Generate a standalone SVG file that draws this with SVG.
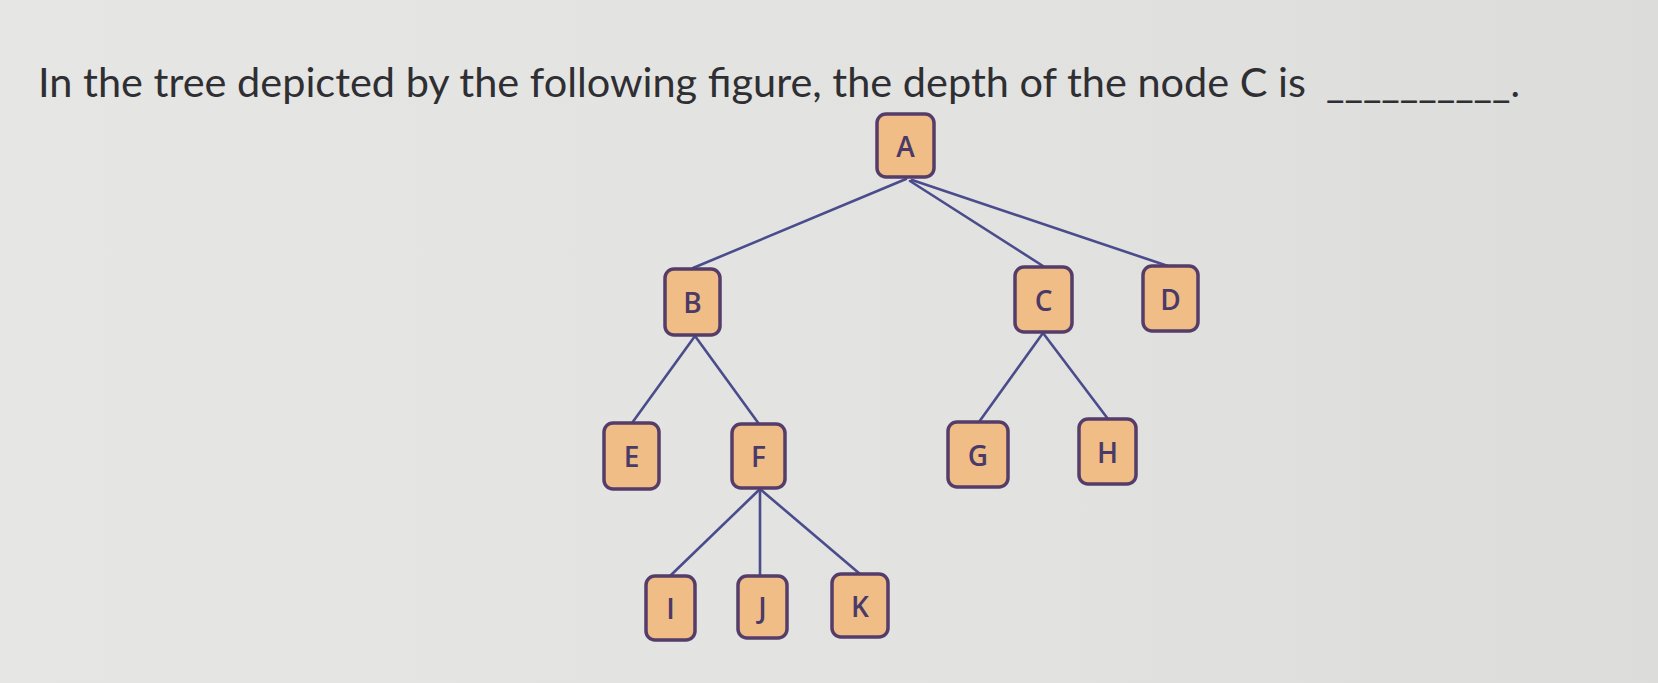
<svg xmlns="http://www.w3.org/2000/svg" width="1658" height="683" viewBox="0 0 1658 683">
<defs>
<linearGradient id="bg" x1="0" y1="0" x2="1" y2="0">
<stop offset="0" stop-color="#e6e6e4"/>
<stop offset="0.6" stop-color="#e2e2e0"/>
<stop offset="1" stop-color="#dcdcda"/>
</linearGradient>
<style>
.node rect{fill:#f1bd86;stroke:#553d6a;stroke-width:3.5}
.node text{font-family:"Open Sans","DejaVu Sans",sans-serif;font-weight:600;font-size:28px;fill:#4a3a68;text-anchor:middle;dominant-baseline:central}
.edges line{stroke:#4a4c8c;stroke-width:2.6;stroke-linecap:round}
.title{font-family:Lato,"Liberation Sans",sans-serif;font-size:41.5px;fill:#2f2f33}
</style>
</defs>
<rect width="1658" height="683" fill="url(#bg)"/>
<text class="title" x="38" y="97" textLength="1268" lengthAdjust="spacingAndGlyphs">In the tree depicted by the following figure, the depth of the node C is</text>
<text class="title" x="1326" y="97" textLength="194" lengthAdjust="spacingAndGlyphs">__________.</text>
<g class="edges">
<line x1="906" y1="179" x2="693" y2="268"/>
<line x1="910" y1="181" x2="1043" y2="266"/>
<line x1="912" y1="180" x2="1168" y2="266"/>
<line x1="695" y1="336" x2="632" y2="423"/>
<line x1="695" y1="336" x2="759" y2="424"/>
<line x1="1043" y1="333" x2="979" y2="422"/>
<line x1="1043" y1="333" x2="1108" y2="419"/>
<line x1="760" y1="489" x2="670" y2="576"/>
<line x1="760" y1="489" x2="760" y2="576"/>
<line x1="760" y1="489" x2="860" y2="574"/>
</g>
<g id="node-A" class="node"><rect x="877" y="114" width="57" height="63" rx="9"/><text x="905.5" y="146">A</text></g>
<g id="node-B" class="node"><rect x="665" y="269" width="55" height="66" rx="9"/><text x="692.5" y="302">B</text></g>
<g id="node-C" class="node"><rect x="1015" y="267" width="57" height="65" rx="9"/><text x="1043.5" y="300">C</text></g>
<g id="node-D" class="node"><rect x="1143" y="266" width="55" height="65" rx="9"/><text x="1170.5" y="299">D</text></g>
<g id="node-E" class="node"><rect x="604" y="423" width="55" height="66" rx="9"/><text x="631.5" y="456">E</text></g>
<g id="node-F" class="node"><rect x="732" y="424" width="53" height="64" rx="9"/><text x="758.5" y="456">F</text></g>
<g id="node-G" class="node"><rect x="948" y="422" width="60" height="65" rx="9"/><text x="978" y="455">G</text></g>
<g id="node-H" class="node"><rect x="1079" y="419" width="57" height="65" rx="9"/><text x="1107.5" y="452">H</text></g>
<g id="node-I" class="node"><rect x="646" y="576" width="49" height="64" rx="9"/><text x="670.5" y="608">I</text></g>
<g id="node-J" class="node"><rect x="738" y="576" width="49" height="62" rx="9"/><text x="762.5" y="607">J</text></g>
<g id="node-K" class="node"><rect x="832" y="574" width="56" height="63" rx="9"/><text x="860" y="606">K</text></g>
</svg>
